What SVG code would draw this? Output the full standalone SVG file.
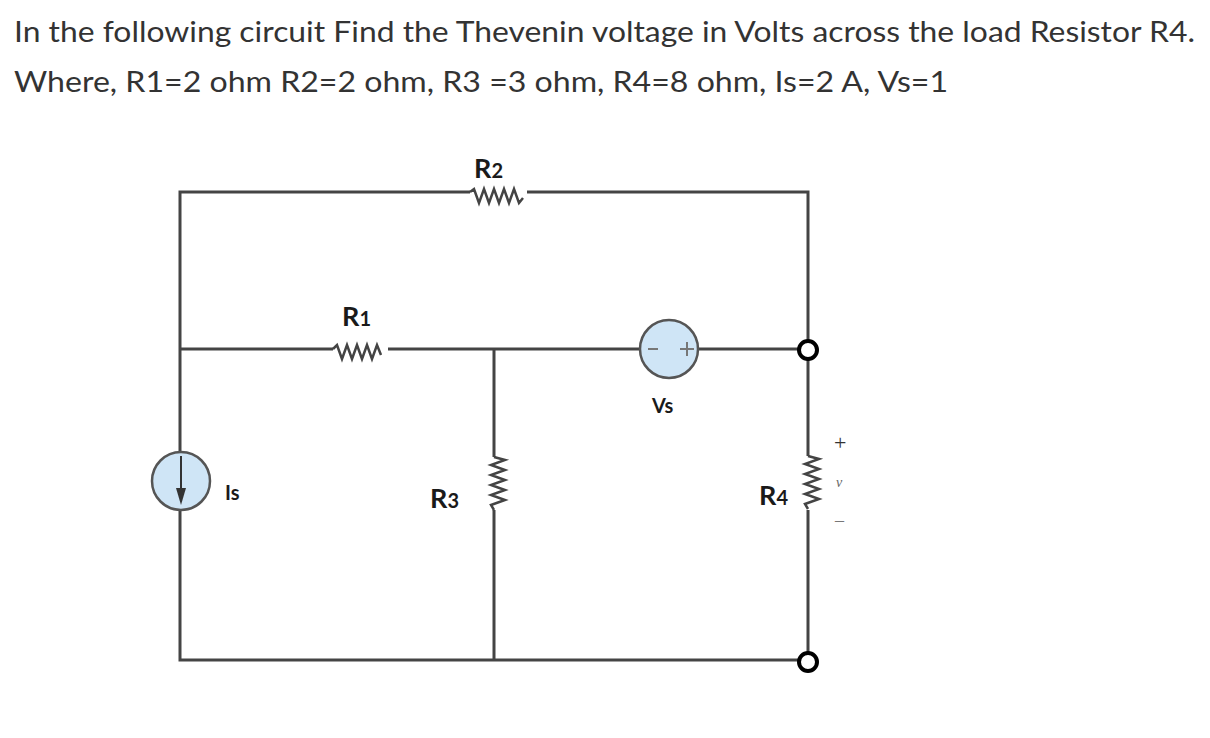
<svg xmlns="http://www.w3.org/2000/svg" width="1210" height="738" viewBox="0 0 1210 738">
<style>
.w{fill:none;stroke:#444;stroke-width:3}
.z{fill:none;stroke:#444;stroke-width:2.5;stroke-linejoin:miter}
.src{fill:#cfe5f6;stroke:#555;stroke-width:2.5}
.t{font-family:"Lato","Liberation Sans",sans-serif;fill:#333}
.l{font-family:"Lato","Liberation Sans",sans-serif;font-weight:bold;fill:#1a1a1a}
.term{fill:#fff;stroke:#000;stroke-width:4}
</style>
<rect width="1210" height="738" fill="#fff"/>
<text class="t" x="14" y="42" font-size="29" textLength="1181" lengthAdjust="spacingAndGlyphs">In the following circuit Find the Thevenin voltage in Volts across the load Resistor R4.</text>
<text class="t" x="14" y="92" font-size="29" textLength="934" lengthAdjust="spacingAndGlyphs">Where, R1=2 ohm R2=2 ohm, R3 =3 ohm, R4=8 ohm, Is=2 A, Vs=1</text>
<g id="wires">
<path class="w" d="M470 192 H180 V452 M180 510 V660 H798 M527 192 H808 V340 M180 349 H333 M388 349 H640 M698 349 H798 M494 349 V457 M494 510 V660 M808 360 V456 M808 510 V652"/>
</g>
<g id="R2"><path class="z" d="M470 192 l4 -3 l5 14 l5 -14 l5 14 l5 -14 l5 14 l5 -14 l5 14 l5 -14 l5 14 l4 -5"/><text class="l" x="474" y="178" font-size="27">R<tspan font-size="20">2</tspan></text></g>
<g id="R1"><path class="z" d="M333 349 l4 -4 l5 14 l5 -14 l5 14 l5 -14 l5 14 l5 -14 l5 14 l5 -14 l4 10"/><text class="l" x="342" y="326" font-size="27">R<tspan font-size="20">1</tspan></text></g>
<g id="R3"><path class="z" d="M494 457 l11 3 l-14 5 l14 5 l-14 5 l14 5 l-14 5 l14 5 l-14 5 l14 5 l-14 5 l3 5"/><text class="l" x="430" y="508" font-size="27">R<tspan font-size="20">3</tspan></text></g>
<g id="R4"><path class="z" d="M808 456 l11 3 l-14 5 l14 5 l-14 5 l14 5 l-14 5 l14 5 l-14 5 l14 5 l-14 5 l3 5"/><text class="l" x="759" y="505" font-size="27">R<tspan font-size="20">4</tspan></text>
<text x="834" y="450" font-family="Liberation Serif,serif" font-size="22" fill="#333">+</text>
<text x="836" y="487" font-family="Liberation Serif,serif" font-style="italic" font-size="14" fill="#666">v</text>
<text x="835" y="526" font-family="Liberation Serif,serif" font-size="18" fill="#777">–</text></g>
<g id="Is"><circle class="src" cx="181" cy="481" r="29"/><path d="M181 456 V495" stroke="#333" stroke-width="2"/><path d="M176 488 L181 505 L186 488 Z" fill="#333"/><text class="l" x="225" y="500" font-size="20">Is</text></g>
<g id="Vs"><circle class="src" cx="669" cy="349" r="29"/><path d="M648 349 h10 M680 349 h14 M687 342 v14" stroke="#777" stroke-width="2"/><text class="l" x="652" y="413" font-size="20">Vs</text></g>
<g id="T1"><circle class="term" cx="808" cy="350" r="9"/></g>
<g id="T2"><circle class="term" cx="808" cy="662" r="9"/></g>
</svg>
